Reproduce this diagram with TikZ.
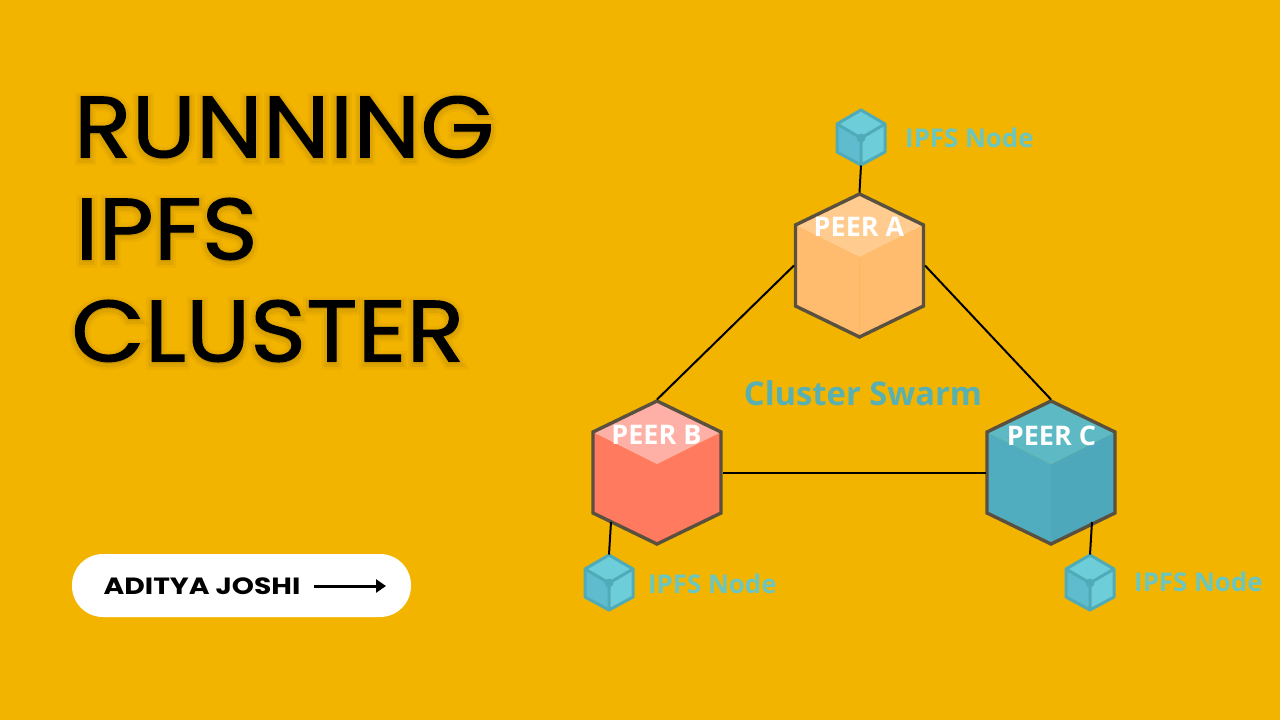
\documentclass[tikz,border=0pt]{standalone}
\usepackage{fontspec}
\setmainfont{Open Sans}
\newfontfamily\titlefont[FakeStretch=1.095,FakeBold=1.2]{Poppins}
\newfontfamily\titleglowA[FakeStretch=1.095,FakeBold=14]{Poppins}
\newfontfamily\titleglowB[FakeStretch=1.095,FakeBold=8]{Poppins}
\newfontfamily\authorfont[FakeStretch=1.2]{Poppins}
\usetikzlibrary{arrows.meta,calc}
\definecolor{bg}{HTML}{F3B400}
\definecolor{edgeDark}{HTML}{5A5040}
\definecolor{smallEdge}{HTML}{50ABB9}
\definecolor{labelTeal}{HTML}{6CC6C0}
\definecolor{swarmTeal}{HTML}{58B0B2}
\definecolor{smallLeft}{HTML}{5FBBCE}
\definecolor{smallRight}{HTML}{6DCEDA}
\definecolor{peachTop}{HTML}{FFCB8E}
\definecolor{peachSide}{HTML}{FFBB6E}
\definecolor{coralTop}{HTML}{FFB0A6}
\definecolor{coralSide}{HTML}{FF7A5E}
\definecolor{tealTop}{HTML}{5DBAC4}
\definecolor{tealLeft}{HTML}{50ADC0}
\definecolor{tealRight}{HTML}{4DA8BC}
\tikzset{
  x=1pt,y=-1pt,
  link/.style={draw=black,line width=2pt},
  peerlabel/.style={text=white,font=\fontsize{27}{27}\selectfont\bfseries,inner sep=0pt},
  nodelabel/.style={text=labelTeal,font=\fontsize{25.8}{26}\selectfont\bfseries,inner sep=0pt,anchor=west},
  titletext/.style={text=black,font=\titlefont\fontsize{87}{87}\selectfont,inner sep=0pt,anchor=west},
  glowa/.style={text=black,text opacity=.035,font=\titleglowA\fontsize{87}{87}\selectfont,inner sep=0pt,anchor=west},
  glowb/.style={text=black,text opacity=.05,font=\titleglowB\fontsize{87}{87}\selectfont,inner sep=0pt,anchor=west},
}
% big cube: name, cx, top y, top colour, left colour, right colour
\newcommand{\bigcube}[6]{%
  \fill[#5] (#2-64,#3+31) -- (#2,#3+63) -- (#2,#3+143) -- (#2-64,#3+112) -- cycle;
  \fill[#6] (#2,#3+63) -- (#2+64,#3+31) -- (#2+64,#3+112) -- (#2,#3+143) -- cycle;
  \fill[#4] (#2,#3) -- (#2+64,#3+31) -- (#2,#3+63) -- (#2-64,#3+31) -- cycle;
  \draw[edgeDark,line width=3.4pt,line join=miter]
    (#2,#3) -- (#2+64,#3+31) -- (#2+64,#3+112) -- (#2,#3+143) -- (#2-64,#3+112) -- (#2-64,#3+31) -- cycle;
  \node[minimum width=131pt,minimum height=146pt,inner sep=0pt,outer sep=0pt] (#1) at (#2,#3+71.5) {};
}
% small cube: name, cx, top y
\newcommand{\smallcube}[3]{%
  \fill[smallLeft] (#2,#3+28) -- (#2-24,#3+14) -- (#2-24,#3+42) -- (#2,#3+55) -- cycle;
  \fill[smallRight] (#2,#3+28) -- (#2+24,#3+14) -- (#2+24,#3+42) -- (#2,#3+55) -- cycle;
  \fill[smallRight] (#2,#3) -- (#2+24,#3+14) -- (#2,#3+28) -- (#2-24,#3+14) -- cycle;
  \draw[smallEdge,line width=3pt,line join=round]
    (#2,#3) -- (#2+24,#3+14) -- (#2+24,#3+42) -- (#2,#3+55) -- (#2-24,#3+42) -- (#2-24,#3+14) -- cycle
    (#2-24,#3+14) -- (#2,#3+28) -- (#2+24,#3+14) (#2,#3+28) -- (#2,#3+55);
  \fill[smallEdge] (#2,#3+28) circle (4.5);
  \node[minimum width=50pt,minimum height=56pt,inner sep=0pt,outer sep=0pt] (#1) at (#2,#3+27.5) {};
}
\begin{document}
\begin{tikzpicture}
\useasboundingbox (0,0) rectangle (1280,720);
\fill[bg] (0,0) rectangle (1280,720);

\node[glowa] (gA1) at (73.5,129) {RUNNING};
\node[glowa] (gB1) at (75,231) {IPFS};
\node[glowa] (gC1) at (71,333) {CLUSTER};
\node[glowb] (gA2) at (73.5,129) {RUNNING};
\node[glowb] (gB2) at (75,231) {IPFS};
\node[glowb] (gC2) at (71,333) {CLUSTER};
\node[titletext] (tA) at (73.5,127) {RUNNING};
\node[titletext] (tB) at (75,229) {IPFS};
\node[titletext] (tC) at (71,331) {CLUSTER};

\node[fill=white,rounded corners=31pt,minimum width=339pt,minimum height=63pt,inner sep=0pt] (pill) at (241.5,585.5) {};
\node[font=\authorfont\bfseries\fontsize{23.5}{24}\selectfont,text=black,inner sep=0pt,anchor=west] (author) at (103.5,586) {ADITYA JOSHI};
\coordinate (arrS) at (314,586);
\coordinate (arrE) at (386,586);
\draw[line width=3pt,-{Triangle[length=10pt,width=13pt]}] (arrS) -- (arrE);

\bigcube{peerA}{859.5}{194}{peachTop}{peachSide}{peachSide}
\bigcube{peerB}{657}{401}{coralTop}{coralSide}{coralSide}
\bigcube{peerC}{1051}{401}{tealTop}{tealLeft}{tealRight}
\smallcube{ipfsA}{861}{110}
\smallcube{ipfsB}{609}{555}
\smallcube{ipfsC}{1090}{555}

\coordinate (linkB) at (611,522);
\coordinate (linkC) at (1092,522);
\draw[link] (peerA.west) -- (peerB.north);
\draw[link] (peerA.east) -- (peerC.north);
\draw[link] (peerB.east) -- (peerC.west);
\draw[link] (ipfsA.south) -- (peerA.north);
\draw[link] (linkB) -- (ipfsB.north);
\draw[link] (linkC) -- (ipfsC.north);

\node[peerlabel] (lA) at (859,227) {PEER A};
\node[peerlabel] (lB) at (656.5,435) {PEER B};
\node[peerlabel] (lC) at (1051.5,436) {PEER C};
\node[nodelabel] (nA) at (905,138) {IPFS Node};
\node[nodelabel] (nB) at (648,584) {IPFS Node};
\node[nodelabel] (nC) at (1134,582) {IPFS Node};
\node[text=swarmTeal,font=\fontsize{32.7}{33}\selectfont\bfseries,inner sep=0pt] (swarm) at (863,393) {Cluster Swarm};
\end{tikzpicture}
\end{document}
